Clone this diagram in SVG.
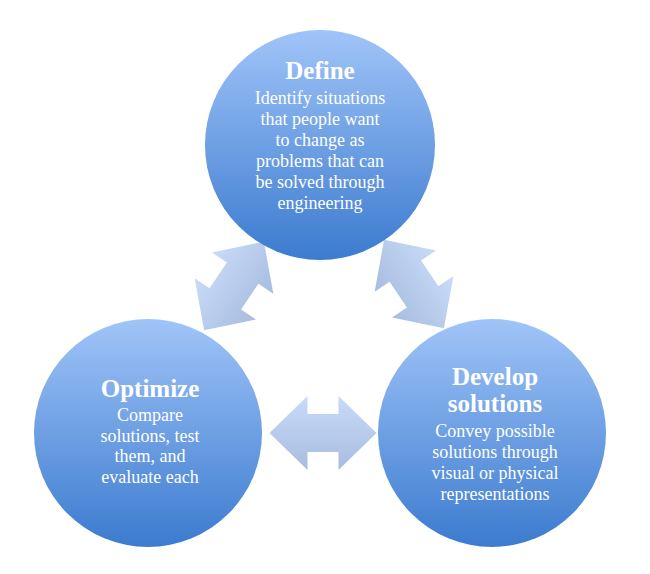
<svg xmlns="http://www.w3.org/2000/svg" width="650" height="574" viewBox="0 0 650 574">
<defs>
<linearGradient id="cg" x1="0" y1="0" x2="0" y2="1"><stop offset="0" stop-color="#a0c4f8"/><stop offset="1" stop-color="#3c7bcf"/></linearGradient>
<linearGradient id="ag" x1="0" y1="0" x2="0" y2="1"><stop offset="0" stop-color="#c8dbf8"/><stop offset="1" stop-color="#a8bce0"/></linearGradient>
<path id="arr" d="M-53.5,0 L-15.5,-37 L-15.5,-19 L15.5,-19 L15.5,-37 L53.5,0 L15.5,37 L15.5,19 L-15.5,19 L-15.5,37 Z"/>
</defs>
<style>
.c{fill:url(#cg)}
.a{fill:url(#ag)}
text{font-family:"Liberation Serif",serif;fill:#fff;text-anchor:middle}
.t{font-size:25px;font-weight:bold}
.b{font-size:18px}
</style>
<rect width="650" height="574" fill="#fff"/>
<g id="connectors">
<use href="#arr" class="a" transform="translate(323,433)"/>
<use href="#arr" class="a" transform="translate(234,286) rotate(-56)"/>
<use href="#arr" class="a" transform="translate(414,284) rotate(56)"/>
</g>
<g id="define">
<circle class="c" cx="320" cy="145" r="115"/>
<text class="t" x="320" y="79">Define</text>
<text class="b"><tspan x="320" y="104">Identify situations</tspan><tspan x="320" y="125">that people want</tspan><tspan x="320" y="146">to change as</tspan><tspan x="320" y="167">problems that can</tspan><tspan x="320" y="188">be solved through</tspan><tspan x="320" y="209">engineering</tspan></text>
</g>
<g id="optimize">
<circle class="c" cx="148" cy="433" r="114"/>
<text class="t" x="150" y="397">Optimize</text>
<text class="b"><tspan x="150" y="421">Compare</tspan><tspan x="150" y="442">solutions, test</tspan><tspan x="150" y="462">them, and</tspan><tspan x="150" y="483">evaluate each</tspan></text>
</g>
<g id="develop">
<circle class="c" cx="492" cy="433" r="114"/>
<text class="t" x="495" y="385">Develop</text>
<text class="t" x="495" y="412">solutions</text>
<text class="b"><tspan x="495" y="437">Convey possible</tspan><tspan x="495" y="458">solutions through</tspan><tspan x="495" y="479">visual or physical</tspan><tspan x="495" y="500">representations</tspan></text>
</g>
</svg>
